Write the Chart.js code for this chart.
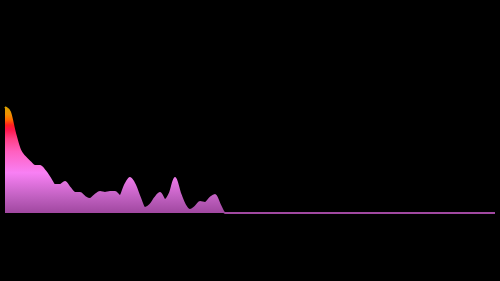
<!DOCTYPE html>
<html>
<head>
<meta charset="utf-8">
<script src="https://cdn.jsdelivr.net/npm/chart.js@4/dist/chart.umd.min.js"></script>
<style>
  html, body { margin: 0; padding: 0; background: #000; }
  #wrap { width: 500px; height: 281px; }
</style>
</head>
<body>
<div id="wrap"><canvas id="areaChart"></canvas></div>
<script>
// sample positions (99 points, evenly spaced)
const labels = Array.from({ length: 99 }, (_, i) => i + 1);

// tail is flat zero
const head = [106, 101, 80, 63, 56, 51, 47, 47, 42, 35, 28, 28, 31, 25, 20, 20, 16, 14, 18, 21,
              20, 21, 21, 17, 28, 35, 28, 15, 5, 8, 15, 20, 13, 20, 35, 20, 8, 3, 6, 11,
              10, 15, 18, 8];
const values = head.concat(Array(99 - head.length).fill(0));

const yMax = 106;

function makeGrad(chart) {
    const { ctx, chartArea, scales } = chart;
    if (!chartArea) return '#a050a0';
    const top = scales.y.getPixelForValue(yMax);
    const bot = scales.y.getPixelForValue(0);
    const g = ctx.createLinearGradient(0, top, 0, bot);
    g.addColorStop(0.00, '#d8a000');
    g.addColorStop(0.07, '#f09000');
    g.addColorStop(0.12, '#ff6a00');
    g.addColorStop(0.17, '#ff2020');
    g.addColorStop(0.21, '#ff1448');
    g.addColorStop(0.30, '#ff4088');
    g.addColorStop(0.42, '#ff60c0');
    g.addColorStop(0.62, '#f880f4');
    g.addColorStop(0.85, '#c060c0');
    g.addColorStop(1.00, '#a048a0');
    return g;
}

const ctx = document.getElementById('areaChart').getContext('2d');
new Chart(ctx, {
    type: 'line',
    data: {
        labels: labels,
        datasets: [{
            data: values,
            fill: 'origin',
            backgroundColor: c => makeGrad(c.chart),
            borderColor: c => makeGrad(c.chart),
            borderWidth: 2,
            pointRadius: 0,
            clip: false,
            cubicInterpolationMode: 'monotone'
        }]
    },
    options: {
        responsive: true, maintainAspectRatio: false, animation: false,
        layout: { padding: { left: 5, right: 5, top: 107, bottom: 68 } },
        plugins: { legend: { display: false }, tooltip: { enabled: false } },
        scales: {
            x: { display: false, offset: false },
            y: { display: false, min: 0, max: yMax }
        }
    }
});
</script>
</body>
</html>
